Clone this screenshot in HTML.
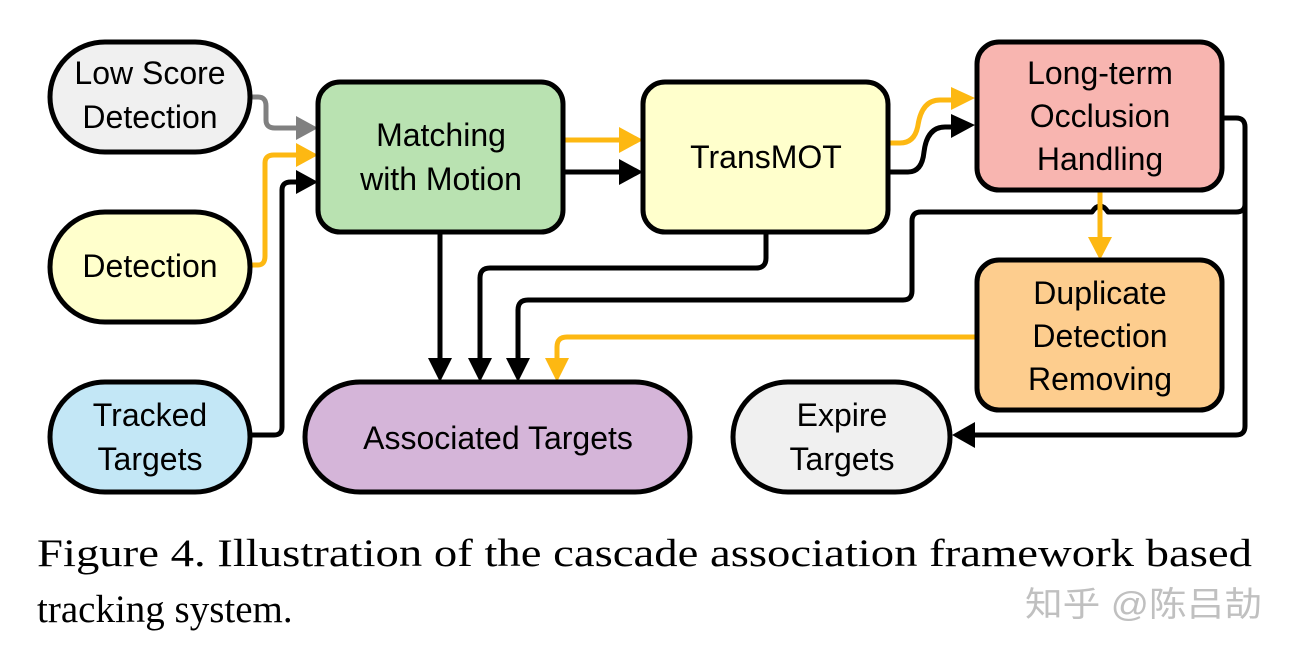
<!DOCTYPE html>
<html><head><meta charset="utf-8"><style>html,body{margin:0;padding:0;background:#fff}svg{display:block}
.n{font-family:"Liberation Sans",Arial,sans-serif;font-size:32px}
.c{font-family:"Liberation Serif","Times New Roman",serif;font-size:39px}
.w{font-family:"Liberation Sans","Noto Sans CJK SC",sans-serif;font-size:34px}
</style></head>
<body>
<svg width="1296" height="654" viewBox="0 0 1296 654" xmlns="http://www.w3.org/2000/svg">
<g fill="none" stroke-width="5" stroke-linejoin="round">
<path d="M250,97 H258 Q266,97 266,106 V120 Q266,128 275,128 H296" stroke="#808080"/>
<path d="M250,265 H258 Q265,265 265,256 V163 Q265,155 274,155 H296" stroke="#fdb812"/>
<path d="M250,435 H274 Q282,435 282,427 V190 Q282,182 291,182 H296" stroke="#000"/>
<path d="M563,140 H620" stroke="#fdb812"/>
<path d="M563,172 H620" stroke="#000"/>
<path d="M888,143 H900 Q915,143 918,125 Q922,100 940,100 H952" stroke="#fdb812"/>
<path d="M888,172 H908 Q922,172 924,152 Q927,127 945,127 H952" stroke="#000"/>
<path d="M440,232 V360" stroke="#000"/>
<path d="M766,232 V258 Q766,268 756,268 H490 Q480,268 480,278 V360" stroke="#000"/>
<path d="M1222,118 H1236 Q1245,118 1245,127 V426 Q1245,435 1236,435 H975" stroke="#000"/>
<path d="M1245,204 Q1245,212 1236,212 H1108 Q1100,200 1092,212 H921 Q912,212 912,221 V291 Q912,300 903,300 H528 Q518,300 518,310 V360" stroke="#000"/>
<path d="M1100,190 V240" stroke="#fdb812"/>
<path d="M975,337 H567 Q557,337 557,347 V360" stroke="#fdb812"/>
</g>
<path d="M296,116 L318,128 L296,140z" fill="#808080"/>
<path d="M296,143 L318,155 L296,167z" fill="#fdb812"/>
<path d="M296,170 L318,182 L296,194z" fill="#000"/>
<path d="M619,127 L643,140 L619,153z" fill="#fdb812"/>
<path d="M619,159 L643,172 L619,185z" fill="#000"/>
<path d="M951,87 L975,98 L951,110z" fill="#fdb812"/>
<path d="M951,114 L975,125 L951,138z" fill="#000"/>
<path d="M428,358 L440,382 L452,358z" fill="#000"/>
<path d="M468,358 L480,382 L492,358z" fill="#000"/>
<path d="M506,358 L518,382 L530,358z" fill="#000"/>
<path d="M545,358 L557,382 L569,358z" fill="#fdb812"/>
<path d="M1088,237 L1100,260 L1112,237z" fill="#fdb812"/>
<path d="M975,422 L952,435 L975,448z" fill="#000"/>
<g stroke="#000" stroke-width="5">
<rect x="50" y="42" width="200" height="110" rx="55" fill="#f0f0f0"/>
<rect x="50" y="212" width="200" height="110" rx="55" fill="#ffffcc"/>
<rect x="50" y="382" width="200" height="110" rx="55" fill="#c3e7f6"/>
<rect x="318" y="82" width="245" height="150" rx="22" fill="#b9e2b1"/>
<rect x="643" y="82" width="245" height="150" rx="22" fill="#ffffcc"/>
<rect x="977" y="42" width="245" height="148" rx="22" fill="#f8b5b0"/>
<rect x="977" y="260" width="245" height="150" rx="22" fill="#fdcd8e"/>
<rect x="305" y="382" width="385" height="110" rx="55" fill="#d5b5d9"/>
<rect x="733" y="382" width="217" height="110" rx="55" fill="#f0f0f0"/>
</g>
<g class="n" text-anchor="middle" fill="#000">
<text x="150" y="84">Low Score</text>
<text x="150" y="128">Detection</text>
<text x="150" y="277">Detection</text>
<text x="150" y="426">Tracked</text>
<text x="150" y="470">Targets</text>
<text x="441" y="146">Matching</text>
<text x="441" y="190">with Motion</text>
<text x="766" y="168">TransMOT</text>
<text x="1100" y="84">Long-term</text>
<text x="1100" y="127">Occlusion</text>
<text x="1100" y="170">Handling</text>
<text x="1100" y="304">Duplicate</text>
<text x="1100" y="347">Detection</text>
<text x="1100" y="390">Removing</text>
<text x="498" y="449">Associated Targets</text>
<text x="842" y="426">Expire</text>
<text x="842" y="470">Targets</text>
</g>
<g class="c" fill="#000">
<text x="37" y="566" textLength="1215" lengthAdjust="spacingAndGlyphs">Figure 4. Illustration of the cascade association framework based</text>
<text x="37" y="622">tracking system.</text>
</g>
<text class="w" x="1025" y="616" fill="#c0c0c0" textLength="237" lengthAdjust="spacingAndGlyphs">知乎 @陈吕劼</text>
</svg>
</body></html>
